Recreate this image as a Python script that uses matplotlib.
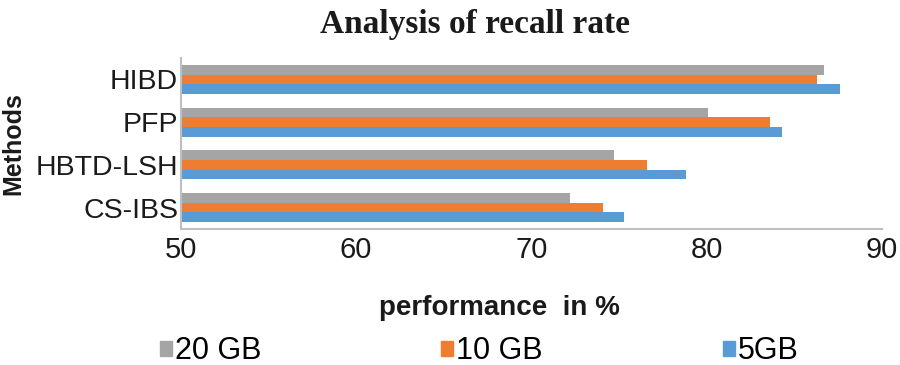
import numpy as np
import matplotlib.pyplot as plt
from matplotlib.patches import Patch

# data (top to bottom as shown)
methods = ['HIBD', 'PFP', 'HBTD-LSH', 'CS-IBS']
gb20 = [86.7, 80.1, 74.7, 72.2]
gb10 = [86.3, 83.6, 76.6, 74.1]
gb5 = [87.6, 84.3, 78.8, 75.3]
series_names = ['20 GB', '10 GB', '5GB']
colors = ['#A5A5A5', '#ED7D31', '#5B9BD5']

plt.rcParams['font.family'] = ['Liberation Sans', 'DejaVu Sans']

fig = plt.figure(figsize=(9, 3.65), dpi=100)
ax = fig.add_axes([0.201, 0.373, 0.779, 0.468])

y = np.arange(len(methods))
h = 0.225
for k, vals in enumerate([gb20, gb10, gb5]):
    ax.barh(y + (k - 1) * h, vals, height=h, color=colors[k], label=series_names[k])

ax.set_xlim(50, 90)
ax.set_ylim(3.5, -0.5)
ax.set_xticks([50, 60, 70, 80, 90])
ax.set_yticks(y)
ax.set_yticklabels(methods)
ax.tick_params(axis='both', length=0, colors='#1a1a1a')
ax.tick_params(axis='x', pad=5, labelsize=21)
ax.tick_params(axis='y', pad=2, labelsize=20.5)

for s in ['top', 'right']:
    ax.spines[s].set_visible(False)
for s in ['left', 'bottom']:
    ax.spines[s].set_color('#BFBFBF')
    ax.spines[s].set_linewidth(1.5)

ax.set_xlabel('performance  in %', fontsize=20, fontweight='bold', color='#1a1a1a')
ax.xaxis.set_label_coords(0.454, -0.39)
ax.set_ylabel('Methods', fontsize=18, fontweight='bold', color='#1a1a1a')
ax.yaxis.set_label_coords(-0.222, 0.5)

fig.text(0.528, 0.975, 'Analysis of recall rate', ha='center', va='top',
         fontsize=24, fontweight='bold', family='Liberation Serif', color='#1a1a1a')

handles = [Patch(color=c) for c in colors]
fig.legend(handles, series_names, loc='center left', bbox_to_anchor=(0.164, 0.038), ncol=3,
           frameon=False, fontsize=22, handlelength=0.39, handleheight=0.39,
           handletextpad=0.1, columnspacing=5.9, borderaxespad=0)

fig.savefig('out.png', dpi=100)
